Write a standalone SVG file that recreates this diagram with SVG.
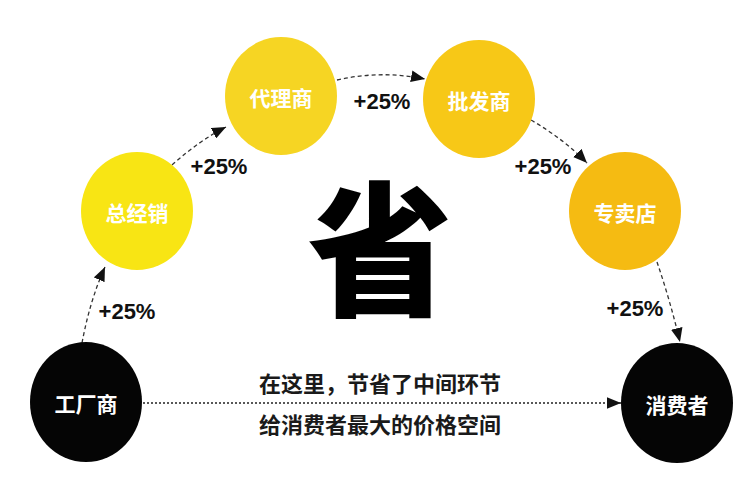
<svg xmlns="http://www.w3.org/2000/svg" width="748" height="483" viewBox="0 0 748 483">
<defs>
<style>
.lbl{font-family:"Noto Sans CJK SC","Liberation Sans",sans-serif;font-weight:700;font-size:21px;fill:#fff;text-anchor:middle;dominant-baseline:central}
.pct{font-family:"Liberation Sans","Noto Sans",sans-serif;font-weight:700;font-size:22px;fill:#111;text-anchor:middle;dominant-baseline:central}
.note{font-family:"Noto Sans CJK SC",sans-serif;font-weight:700;font-size:22px;fill:#1a1a1a;text-anchor:middle;dominant-baseline:central}
.dash{fill:none;stroke:#333;stroke-width:1.3;stroke-dasharray:4 3;marker-end:url(#ah)}
.dot{fill:none;stroke:#222;stroke-width:1.5;stroke-dasharray:2 2;marker-end:url(#ah)}
</style>
<marker id="ah" viewBox="0 0 12 10" refX="12" refY="5" markerWidth="14" markerHeight="12" markerUnits="userSpaceOnUse" orient="auto">
<path d="M0,0 L12,5 L0,10 Z" fill="#111"/>
</marker>
</defs>
<rect width="748" height="483" fill="#fff"/>
<g id="connectors">
<path class="dash" d="M82,343 Q90,300 105,267"/>
<path class="dash" d="M172,165 Q200,140 226,127"/>
<path class="dash" d="M337,80 Q380,70 425,79"/>
<path class="dash" d="M531,120 Q565,140 587,163"/>
<path class="dash" d="M657,262 Q670,300 680,342"/>
<path class="dot" d="M143,403 L621,403"/>
</g>
<g id="labels">
<text class="pct" x="127" y="311">+25%</text>
<text class="pct" x="219" y="166">+25%</text>
<text class="pct" x="382" y="101">+25%</text>
<text class="pct" x="543" y="166">+25%</text>
<text class="pct" x="635" y="308">+25%</text>
</g>
<g id="n-factory">
<ellipse cx="86" cy="402" rx="56" ry="60" fill="#050505"/>
<text class="lbl" x="86" y="403">工厂商</text>
</g>
<g id="n-general">
<ellipse cx="137" cy="211" rx="56" ry="59" fill="#F8E514"/>
<text class="lbl" x="137" y="212">总经销</text>
</g>
<g id="n-agent">
<ellipse cx="281" cy="96" rx="56" ry="59" fill="#F6D523"/>
<text class="lbl" x="281" y="97">代理商</text>
</g>
<g id="n-wholesale">
<ellipse cx="479" cy="99" rx="56" ry="59" fill="#F7C817"/>
<text class="lbl" x="479" y="100">批发商</text>
</g>
<g id="n-store">
<ellipse cx="625" cy="211" rx="56" ry="59" fill="#F5BB12"/>
<text class="lbl" x="625" y="212">专卖店</text>
</g>
<g id="n-consumer">
<ellipse cx="677" cy="403" rx="56" ry="60" fill="#050505"/>
<text class="lbl" x="677" y="404">消费者</text>
</g>
<g id="center">
<text x="380" y="242" style="font-family:'Noto Sans CJK SC',sans-serif;font-weight:900;font-size:145px;fill:#000;text-anchor:middle;dominant-baseline:central">省</text>
<text class="note" x="380" y="382">在这里，节省了中间环节</text>
<text class="note" x="380" y="423">给消费者最大的价格空间</text>
</g>
</svg>
